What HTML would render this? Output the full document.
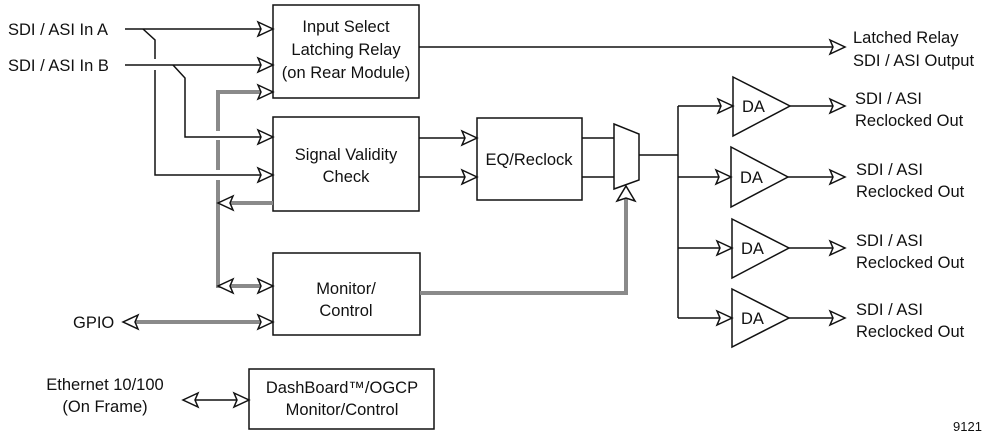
<!DOCTYPE html>
<html><head><meta charset="utf-8"><style>
html,body{margin:0;padding:0;background:#fff;width:1000px;height:441px;overflow:hidden}
text{font-family:"Liberation Sans",sans-serif;font-size:16.5px;fill:#111}
</style></head><body>
<svg width="1000" height="441" viewBox="0 0 1000 441" xmlns="http://www.w3.org/2000/svg">
<g fill="none" stroke="#111" stroke-width="1.5">
<rect x="273" y="5" width="146" height="93"/>
<rect x="273" y="117" width="146" height="94"/>
<rect x="273" y="253" width="147" height="82"/>
<rect x="249" y="369" width="185" height="60"/>
<rect x="477" y="118" width="105" height="82"/>
<path d="M614,124 L639,134 L639,180 L614,189 Z"/>
</g>
<g fill="none" stroke="#8a8a8a" stroke-width="4">
<path d="M268,92 L218,92 L218,131"/>
<path d="M218,140 L218,170"/>
<path d="M218,180 L218,286 L268,286"/>
<path d="M273,203 L225,203"/>
<path d="M130,322 L268,322"/>
<path d="M420,293 L626,293 L626,195"/>
</g>
<g fill="none" stroke="#111" stroke-width="1.5">
<path d="M125,29 L273,29"/>
<path d="M125,65 L273,65"/>
<path d="M143,29 L155,40 L155,59"/>
<path d="M155,70 L155,175 L273,175"/>
<path d="M173,65 L185,78 L185,137 L273,137"/>
<path d="M419,47 L845,47"/>
<path d="M419,138 L477,138 M419,177 L477,177"/>
<path d="M582,138 L614,138 M582,177 L614,177"/>
<path d="M639,155 L678,155 M678,106 L678,318"/>
<path d="M183,400 L249,400"/>
<path d="M678,106 L733,106 M678,177 L731,177 M678,248 L732,248 M678,318 L732,318"/>
<path d="M733,77 L790,106 L733,136 Z M731,147 L788,177 L731,207 Z M732,219 L789,248 L732,278 Z M732,289 L789,318 L732,347 Z"/>
<path d="M790,106 L845,106 M788,177 L845,177 M789,248 L845,248 M789,318 L845,318"/>
</g>
<g fill="#fff" stroke="#111" stroke-width="1.5" stroke-linejoin="miter">
<!-- right arrows: tip x,y -->
<polygon points="258,22 273,29 258,36 261,29"/>
<polygon points="258,58 273,65 258,72 261,65"/>
<polygon points="258,85 273,92 258,99 261,92"/>
<polygon points="258,130 273,137 258,144 261,137"/>
<polygon points="258,168 273,175 258,182 261,175"/>
<polygon points="258,279 273,286 258,293 261,286"/>
<polygon points="258,315 273,322 258,329 261,322"/>
<polygon points="830,40 845,47 830,54 833,47"/>
<polygon points="462,131 477,138 462,145 465,138"/>
<polygon points="462,170 477,177 462,184 465,177"/>
<polygon points="718,99 733,106 718,113 721,106"/>
<polygon points="716,170 731,177 716,184 719,177"/>
<polygon points="717,241 732,248 717,255 720,248"/>
<polygon points="717,311 732,318 717,325 720,318"/>
<polygon points="830,99 845,106 830,113 833,106"/>
<polygon points="830,170 845,177 830,184 833,177"/>
<polygon points="830,241 845,248 830,255 833,248"/>
<polygon points="830,311 845,318 830,325 833,318"/>
<polygon points="234,393 249,400 234,407 237,400"/>
<!-- left arrows -->
<polygon points="233,196 218,203 233,210 230,203"/>
<polygon points="233,279 218,286 233,293 230,286"/>
<polygon points="138,315 123,322 138,329 135,322"/>
<polygon points="198,393 183,400 198,407 195,400"/>
<!-- up -->
<polygon points="617,201 626,186 635,201 626,198"/>
</g>
<g>
<text x="8" y="35">SDI / ASI In A</text>
<text x="8" y="71">SDI / ASI In B</text>
<text x="346" y="32" text-anchor="middle">Input Select</text>
<text x="346" y="55" text-anchor="middle">Latching Relay</text>
<text x="346" y="78" text-anchor="middle">(on Rear Module)</text>
<text x="346" y="160" text-anchor="middle">Signal Validity</text>
<text x="346" y="182" text-anchor="middle">Check</text>
<text x="529" y="165" text-anchor="middle">EQ/Reclock</text>
<text x="346" y="294" text-anchor="middle">Monitor/</text>
<text x="346" y="316" text-anchor="middle">Control</text>
<text x="342" y="393" text-anchor="middle">DashBoard™/OGCP</text>
<text x="342" y="415" text-anchor="middle">Monitor/Control</text>
<text x="73" y="328">GPIO</text>
<text x="105" y="390" text-anchor="middle">Ethernet 10/100</text>
<text x="105" y="412" text-anchor="middle">(On Frame)</text>
<text x="853" y="43">Latched Relay</text>
<text x="853" y="66">SDI / ASI Output</text>
<text x="742" y="112">DA</text><text x="740" y="183">DA</text><text x="741" y="254">DA</text><text x="741" y="324">DA</text>
<text x="855" y="104">SDI / ASI</text><text x="855" y="126">Reclocked Out</text>
<text x="856" y="175">SDI / ASI</text><text x="856" y="197">Reclocked Out</text>
<text x="856" y="246">SDI / ASI</text><text x="856" y="268">Reclocked Out</text>
<text x="856" y="315">SDI / ASI</text><text x="856" y="337">Reclocked Out</text>
<text x="953" y="431" style="font-size:13px">9121</text>
</g>
</svg>
</body></html>
